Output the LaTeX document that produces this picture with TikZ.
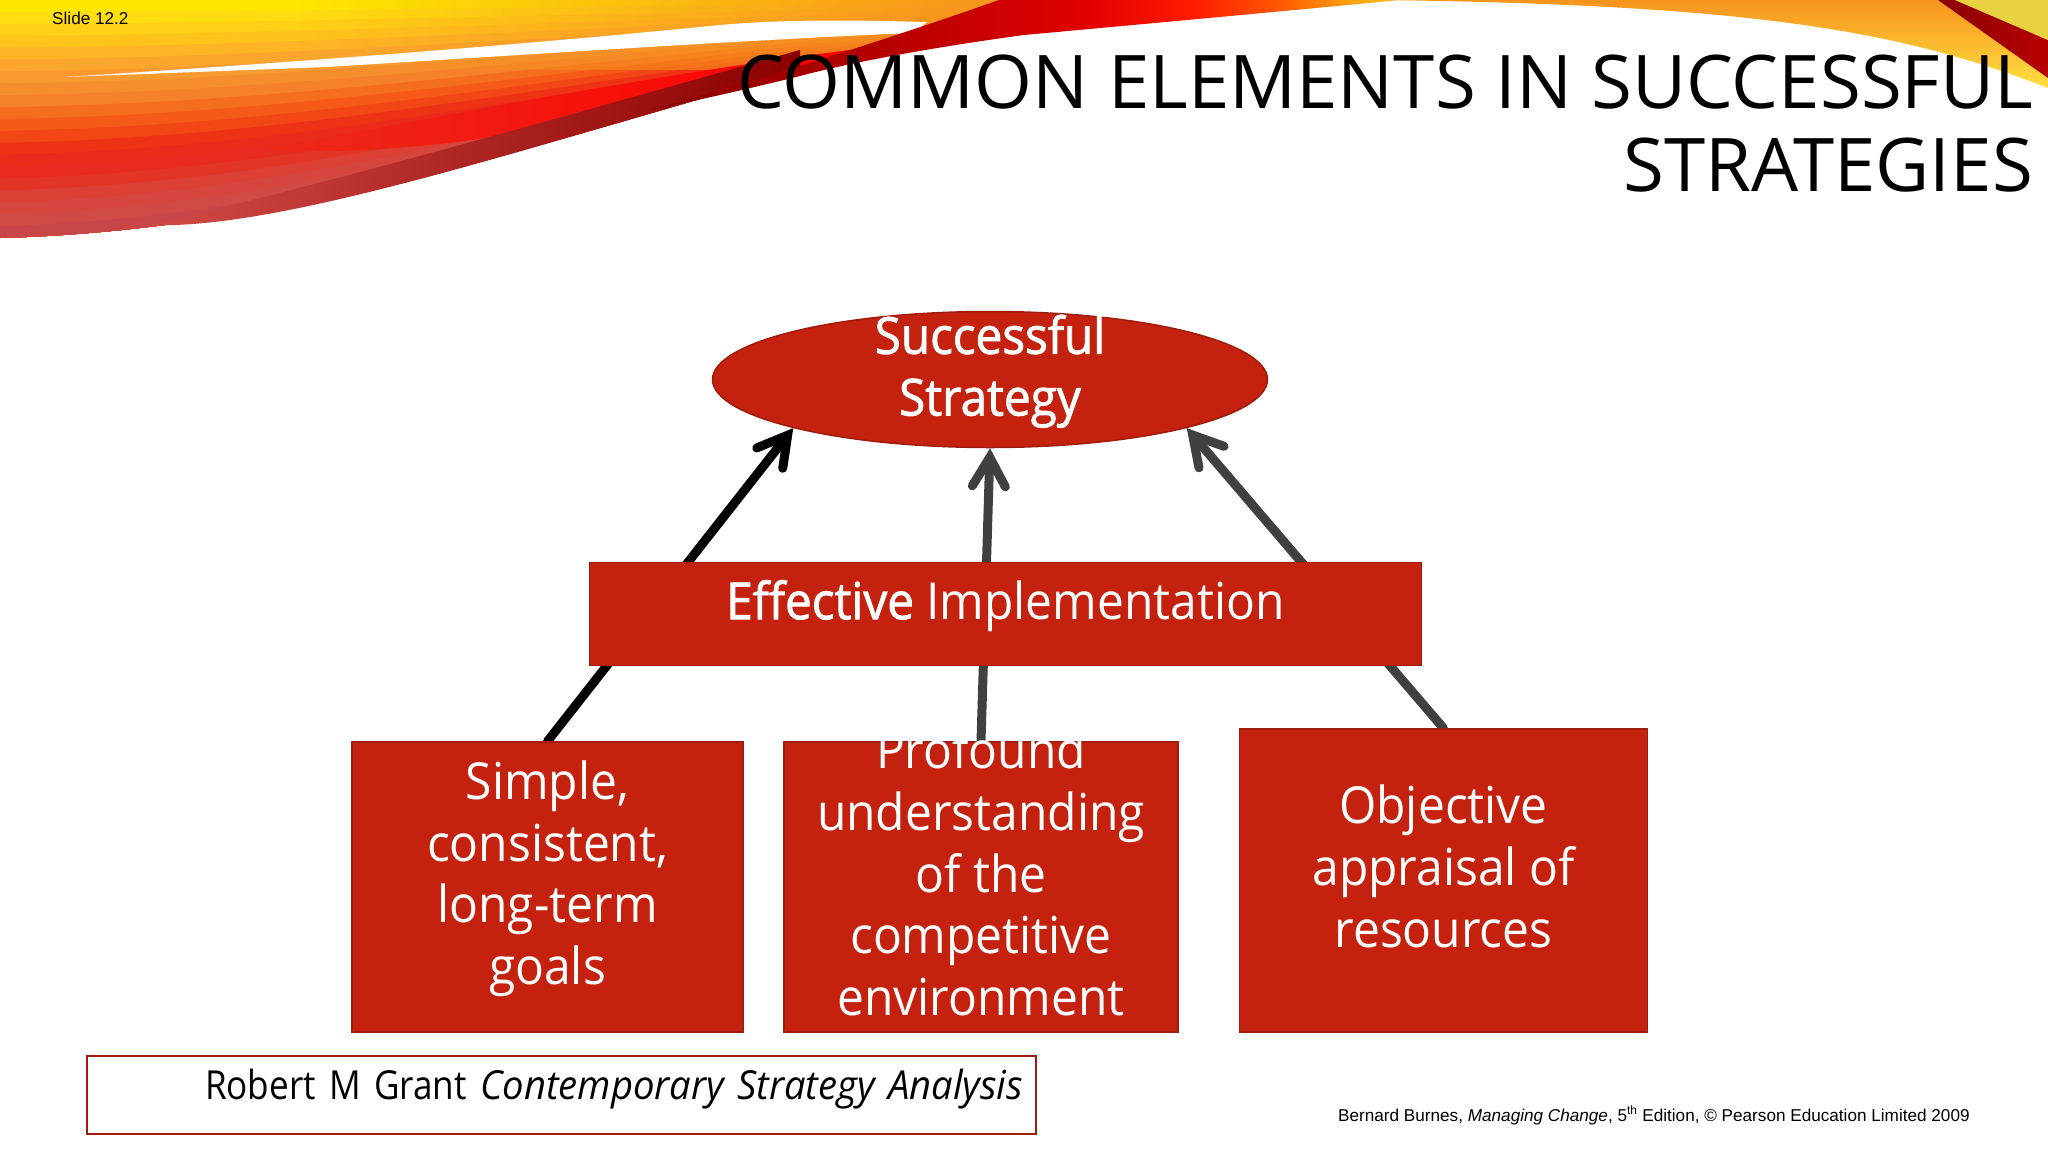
\documentclass[tikz,border=0pt]{standalone}
\usepackage{fontspec}
\setmainfont[FakeStretch=0.94]{Open Sans}
\newfontfamily\headfont[FakeStretch=1.005]{Open Sans}
\newfontfamily\thickfont[FakeStretch=0.935, FakeBold=1.6]{Open Sans}
\newfontfamily\sourcefont[FakeStretch=0.877, ItalicFeatures={FakeStretch=0.955}]{Open Sans}
\newfontfamily\arialfont{Liberation Sans}
\usepackage{tikz}
\usetikzlibrary{positioning, shapes.geometric, arrows.meta, backgrounds, fadings}
\definecolor{boxred}{HTML}{C4220E}
\definecolor{edgered}{HTML}{A01C0C}
\definecolor{arrowgray}{HTML}{404040}
\definecolor{corered}{HTML}{EA2A1A}
\definecolor{pinkred}{HTML}{D04A46}
\definecolor{midred}{HTML}{A00A0A}
\definecolor{darkred}{HTML}{8A0000}
\definecolor{stripered}{HTML}{B80000}
\definecolor{bandorange}{HTML}{F7941D}
\definecolor{bandyellow}{HTML}{FFE040}
\definecolor{cornerlime}{HTML}{E8D040}
\pgfdeclarehorizontalshading{wedgeshade}{100bp}{rgb(0bp)=(.54,0,0);rgb(25bp)=(.54,0,0);rgb(41bp)=(.72,0,0);rgb(54bp)=(.88,0,0);rgb(61bp)=(1,.1,0);rgb(67bp)=(1,.35,0);rgb(72bp)=(1,.65,.05);rgb(75bp)=(1,.75,.1);rgb(100bp)=(1,.75,.1)}
\newcommand{\slidetext}[1]{\smash{\raisebox{1pt}{\begin{tabular}{@{}c@{}}#1\end{tabular}}}}
\tikzset{
    bigtext/.style={font=\fontsize{51}{61.7}\selectfont, text=white},
    redbox/.style={rectangle, draw=edgered, fill=boxred, line width=1.5pt, inner sep=0pt, bigtext},
    redoval/.style={ellipse, draw=edgered, fill=boxred, line width=1.5pt, inner sep=0pt, bigtext},
    sourcebox/.style={rectangle, draw=edgered, fill=white, line width=2pt, inner xsep=13pt, inner ysep=0pt},
    smalltext/.style={inner sep=0pt, anchor=base west, font=\arialfont\fontsize{17.15}{20}\selectfont},
    blackarrow/.style={draw=black, line width=9pt, line cap=round, -{Straight Barb[length=29pt, width=33pt, line cap=round]}},
    grayarrow/.style={blackarrow, draw=arrowgray},
}
\begin{document}
\begin{tikzpicture}[x=1pt, y=-1pt]
    \useasboundingbox (0,0) rectangle (2048,1152);
    \node [redbox, minimum width=391pt, minimum height=290pt] (goals) at (547.5,887) {\slidetext{Simple,\\consistent,\\long-term\\goals}};
    \node [redbox, minimum width=394pt, minimum height=290pt] (profound) [right=39.5pt of goals] {\slidetext{Profound\\understanding\\of the\\competitive\\environment}};
    \node [redbox, minimum width=408pt, minimum height=303pt] (appraisal) [right=60pt of profound.south east, anchor=south west] {\slidetext{Objective\\appraisal of\\resources}};
    \node [redbox, minimum width=832pt, minimum height=103pt] (effective) [above=75pt of profound, xshift=24.5pt] {\slidetext{{\thickfont Effective} Implementation}};
    \node [redoval, minimum width=555pt, minimum height=136pt] (strategy) [above=113.5pt of effective, xshift=-15.5pt] {\slidetext{{\thickfont Successful}\\{\thickfont Strategy}}};
    \node [sourcebox, text width=923pt, minimum height=78pt, align=right, font=\sourcefont\fontsize{40}{48}\selectfont] (source) at (561.5,1095) {\smash{\raisebox{-4pt}{Robert M Grant \textit{Contemporary Strategy Analysis}}}};
    \node [anchor=east, inner sep=0pt, font=\headfont\fontsize{74}{83}\selectfont] (title) at (2033,133.5) {\begin{tabular}{@{}r@{}}COMMON ELEMENTS IN SUCCESSFUL\\STRATEGIES\end{tabular}};
    \node [smalltext] (slide) at (52,24) {Slide 12.2};
    \node [smalltext] (credit) at (1338,1121) {Bernard Burnes, \textit{Managing Change}, 5\textsuperscript{th} Edition, \textcopyright{} Pearson Education Limited 2009};
    \begin{scope}[on background layer]
        % swoosh, top left
        \foreach \t/\c in {0/FFE600,0.05/FFDD10,0.10/FFD015,0.15/FFC41C,0.20/FDB525,0.25/FAA62C,0.30/F89A30,0.35/F58F2E,0.40/F5822A,0.45/F56E20,0.50/F55A18,0.55/F24615,0.60/EE3215,0.65/EA2A1A,0.70/E82A20,0.75/E23528,0.80/DC4034,0.85/D6463E,0.90/D04A46,0.95/C84648} {
            \definecolor{bandcol}{HTML}{\c}
            \fill [bandcol] (0,238*\t) .. controls (280,230*\t) and (520,150*\t) .. (1000-200*\t,70*\t) -- (800,70) .. controls (520,150) and (280,230) .. (0,238) -- cycle;
        }
        \fill [bandorange, path fading=west] (300,0) -- (1000,0) -- (800,70) -- (300,70) -- cycle;
        \shade [left color=corered, right color=red] (260,150) .. controls (450,115) and (650,75) .. (850,50) -- (800,70) .. controls (650,110) and (450,160) .. cycle;
        \shade [left color=pinkred, middle color=midred, right color=darkred] (150,225) .. controls (300,190) and (500,135) .. (800,50) -- (800,70) .. controls (520,150) and (280,230) .. cycle;
        % white gap
        \fill [white] (65,77) .. controls (300,62) and (520,45) .. (720,25) .. controls (800,18) and (880,21) .. (927,22) -- (914,33) .. controls (780,38) and (520,55) .. (327,67) -- cycle;
        % dark wedge
        \shade [shading=wedgeshade] (650,110) .. controls (760,80) and (900,35) .. (999,0) -- (1400,0) .. controls (1318,8) and (1155,23) .. (1024,35) .. controls (950,45) and (860,60) .. (800,76) .. controls (760,86) and (700,100) .. cycle;
        % top right
        \shade [top color=bandorange, bottom color=bandyellow] (1383,0) -- (2048,0) -- (2048,88) .. controls (1900,30) and (1750,5) .. cycle;
        \shade [left color=darkred, right color=stripered] (1938,0) -- (1955,0) -- (2048,40) -- (2048,78) -- cycle;
        \fill [cornerlime] (1955,0) -- (2048,0) -- (2048,40) -- cycle;
        % arrows
        \draw [blackarrow] (goals.north) -- (strategy.south west);
        \draw [grayarrow] (profound.north) -- (strategy.south);
        \draw [grayarrow] (appraisal.north) -- (strategy.south east);
    \end{scope}
\end{tikzpicture}
\end{document}
